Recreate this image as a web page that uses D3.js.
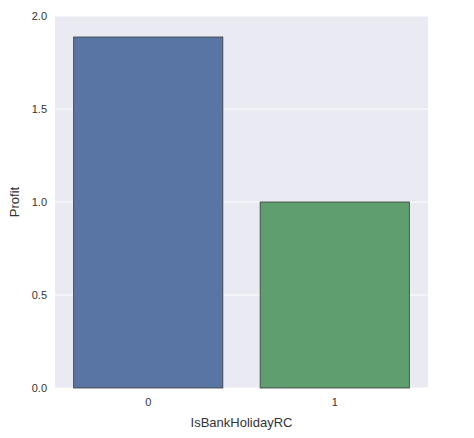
<!DOCTYPE html><html><head><meta charset="utf-8">
<script src="https://cdn.jsdelivr.net/npm/d3@7"></script>
<style>body{margin:0;background:#fff}text{font-family:Arial,"Liberation Sans",sans-serif}</style></head>
<body><svg id="c" width="474" height="438"></svg>
<script>
const categories=["0","1"];
const values=[1.887,1.0];
const colors=["#5975a4","#5f9e6e"];
const yTicks=[0,0.5,1.0,1.5,2.0];
const svg=d3.select("#c");
const m={l:55,r:46,t:16,b:50};
const W=474-m.l-m.r,H=438-m.t-m.b;
const g=svg.append("g").attr("transform",`translate(${m.l},${m.t})`);
g.append("rect").attr("width",W).attr("height",H).attr("fill","#eaeaf2");
const x=d3.scaleBand().domain(categories).range([0,W]).paddingInner(0.2).paddingOuter(0.1);
const y=d3.scaleLinear().domain([0,2]).range([H,0]);
g.selectAll(".gl").data(yTicks).join("line").attr("x1",0).attr("x2",W)
 .attr("y1",d=>y(d)).attr("y2",d=>y(d)).attr("stroke","#fff").attr("stroke-width",1);
g.selectAll(".bar").data(values).join("rect")
 .attr("x",(d,i)=>x(categories[i])).attr("width",x.bandwidth())
 .attr("y",d=>y(d)).attr("height",d=>H-y(d))
 .attr("fill",(d,i)=>colors[i]).attr("stroke","#3a3a3a").attr("stroke-width",0.8);
const ya=g.append("g").call(d3.axisLeft(y).tickValues(yTicks).tickFormat(d3.format(".1f")).tickSize(0).tickPadding(8));
ya.select(".domain").remove();
ya.selectAll("text").attr("font-size",11).attr("fill","#333");
const xa=g.append("g").attr("transform",`translate(0,${H})`).call(d3.axisBottom(x).tickSize(0).tickPadding(10));
xa.select(".domain").remove();
xa.selectAll("text").attr("font-size",11).attr("fill","#333");
svg.append("text").attr("x",m.l+W/2).attr("y",427).attr("text-anchor","middle").attr("font-size",13).attr("fill","#333").text("IsBankHolidayRC");
svg.append("text").attr("transform",`translate(19,${m.t+H/2}) rotate(-90)`).attr("text-anchor","middle").attr("font-size",13).attr("fill","#333").text("Profit");
</script></body></html>
